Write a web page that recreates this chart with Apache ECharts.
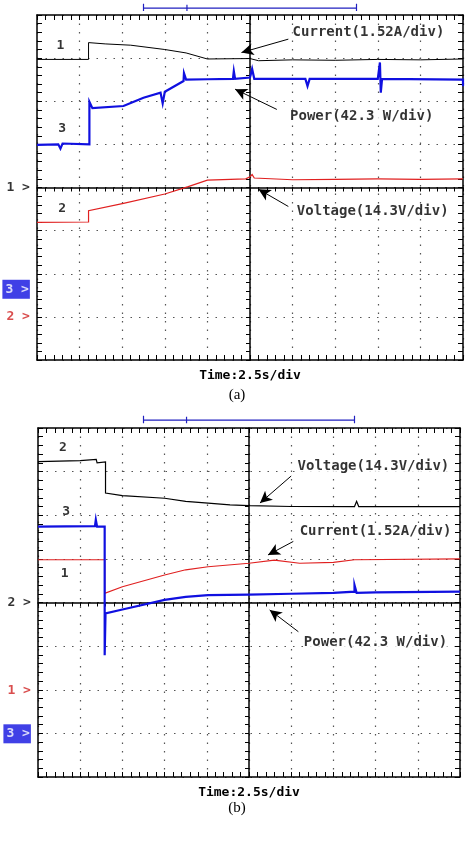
<!DOCTYPE html>
<html><head><meta charset="utf-8">
<script src="https://cdn.jsdelivr.net/npm/echarts@6/dist/echarts.min.js"></script>
<style>html,body{margin:0;background:#fff}#c{width:474px;height:845px}</style>
</head><body><div id="c"></div>
<script>
// traces in scope divisions (x: 0..10, y: 0..8 from bottom)
var currentA = [[0,6.97],[1.21,6.97],[1.21,7.36],[1.6,7.33],[2.2,7.3],[3.0,7.2],[3.5,7.12],[4.0,6.98],[5.0,6.99],[5.2,6.94],[6,6.96],[7,6.95],[8,6.97],[9,6.96],[10,6.98]];
var powerA = [[0,4.99],[0.5,5.0],[0.55,4.9],[0.6,5.02],[1.23,5.0],[1.23,5.99],[1.3,5.84],[2.03,5.89],[2.3,6.0],[2.5,6.08],[2.9,6.2],[2.95,5.95],[3.0,6.22],[3.44,6.47],[3.45,6.65],[3.5,6.5],[4.0,6.51],[4.6,6.52],[4.62,6.7],[4.65,6.52],[5.0,6.55],[5.05,6.75],[5.1,6.52],[6.3,6.52],[6.35,6.35],[6.4,6.52],[8.0,6.52],[8.05,6.9],[8.07,6.2],[8.1,6.52],[10,6.5],[10,6.35]];
var voltageA = [[0,3.19],[1.21,3.2],[1.21,3.46],[2.03,3.63],[3.0,3.85],[3.55,4.02],[4.0,4.17],[4.9,4.2],[5.0,4.25],[5.05,4.3],[5.1,4.22],[6,4.18],[7,4.19],[8,4.2],[9,4.19],[10,4.2]];
var voltageB = [[0,7.23],[1.0,7.25],[1.38,7.28],[1.4,7.2],[1.6,7.22],[1.6,6.51],[2.0,6.45],[3.0,6.39],[3.5,6.32],[4.03,6.28],[4.55,6.24],[5.0,6.22],[6.0,6.2],[7.5,6.2],[7.55,6.32],[7.6,6.2],[10,6.2]];
var powerB = [[0,5.74],[1.35,5.75],[1.37,5.9],[1.4,5.74],[1.58,5.74],[1.58,2.79],[1.6,3.75],[2.0,3.84],[3.0,4.06],[3.5,4.13],[4.03,4.17],[5,4.18],[6,4.2],[7,4.22],[7.5,4.25],[7.5,4.4],[7.55,4.22],[8,4.23],[10,4.25]];
var currentB = [[0,4.98],[1.58,4.98],[1.58,4.21],[2.0,4.36],[3.0,4.63],[3.5,4.75],[4.03,4.82],[5,4.9],[5.6,4.97],[6.2,4.9],[7,4.92],[7.5,4.98],[10,5.0]];
// channel markers on the left edge [y, text, colour, boxed]
var markersA = [[4.0,'1 >','#000',false],[1.64,'3 >','#1010e0',true],[1.0,'2 >','#d02020',false]];
var markersB = [[4.0,'2 >','#000',false],[1.99,'1 >','#d02020',false],[0.99,'3 >','#1010e0',true]];
// channel numbers [x, y, text]
var chanA = [[0.55,7.3,'1'],[0.59,5.37,'3'],[0.59,3.52,'2']];
var chanB = [[0.59,7.56,'2'],[0.67,6.09,'3'],[0.63,4.67,'1']];
// annotations [textX, textY, text, arrowFrom, arrowTo]
var notesA = [[6.0,7.6,'Current(1.52A/div)',[5.9,7.44],[4.8,7.13]],[5.94,5.64,'Power(42.3 W/div)',[5.63,5.81],[4.65,6.28]],[6.1,3.44,'Voltage(14.3V/div)',[5.9,3.56],[5.2,3.96]]];
var notesB = [[6.15,7.13,'Voltage(14.3V/div)',[6.0,6.9],[5.26,6.28]],[6.2,5.63,'Current(1.52A/div)',[6.05,5.4],[5.45,5.09]],[6.3,3.08,'Power(42.3 W/div)',[6.17,3.33],[5.49,3.83]]];

var mono = 'DejaVu Sans Mono';
var grids = [{left:37,top:15,width:426,height:345},{left:38,top:428,width:422,height:349}];
var xAxes = [], yAxes = [], series = [];

function frameAxes(g){
  var xi = xAxes.length, yi = yAxes.length;
  var tick = {show:true,inside:true,length:5,lineStyle:{color:'#000'}};
  var ctick = {show:true,inside:true,length:4,lineStyle:{color:'#000'}};
  var line = {show:true,onZero:false,lineStyle:{color:'#000',width:1.5}};
  var dots = {show:true,lineStyle:{color:'#555',type:[1.5,7],width:1.2}};
  var nolab = {show:false};
  // 0 bottom (ticks), 1 top, 2 centre, 3 grid lines
  xAxes.push({gridIndex:g,type:'value',min:0,max:10,interval:0.2,position:'bottom',axisLine:line,axisTick:tick,axisLabel:nolab,splitLine:{show:false},
    name:'Time:2.5s/div',nameLocation:'middle',nameGap:9,nameTextStyle:{fontFamily:mono,fontWeight:'bold',fontSize:13,color:'#000'}});
  xAxes.push({gridIndex:g,type:'value',min:0,max:10,interval:0.2,position:'top',axisLine:line,axisTick:tick,axisLabel:nolab,splitLine:{show:false}});
  xAxes.push({gridIndex:g,type:'value',min:-5,max:5,interval:0.2,axisLine:{show:true,onZero:true,onZeroAxisIndex:yi+2,lineStyle:{color:'#000',width:1.5}},axisTick:ctick,axisLabel:nolab,splitLine:{show:false}});
  xAxes.push({gridIndex:g,type:'value',min:0,max:10,interval:1,position:'bottom',axisLine:{show:false},axisTick:{show:false},axisLabel:nolab,splitLine:dots});
  yAxes.push({gridIndex:g,type:'value',min:0,max:8,interval:1,position:'left',axisLine:{show:false},axisTick:{show:false},axisLabel:nolab,splitLine:dots});
  yAxes.push({gridIndex:g,type:'value',min:0,max:8,interval:0.2,position:'left',axisLine:line,axisTick:tick,axisLabel:nolab,splitLine:{show:false}});
  yAxes.push({gridIndex:g,type:'value',min:-4,max:4,interval:0.2,axisLine:{show:true,onZero:true,onZeroAxisIndex:xi+2,lineStyle:{color:'#000',width:1.5}},axisTick:ctick,axisLabel:nolab,splitLine:{show:false}});
  yAxes.push({gridIndex:g,type:'value',min:0,max:8,interval:0.2,position:'right',axisLine:line,axisTick:tick,axisLabel:nolab,splitLine:{show:false}});
  return [xi, yi];
}

function trace(ax, data, color, w){
  series.push({type:'line',xAxisIndex:ax[0],yAxisIndex:ax[1],data:data,symbol:'none',lineStyle:{color:color,width:w,join:'miter'},animation:false,z:3});
}

function decorate(ax, markers, chans, notes, by){
  series.push({type:'scatter',xAxisIndex:ax[0],yAxisIndex:ax[1],clip:false,symbolSize:0,animation:false,
    data:markers.map(function(m){return {value:[-0.05,m[0]],label:{show:true,position:'left',formatter:m[1],fontFamily:mono,fontWeight:'bold',fontSize:13,
      color:m[3]?'#fff':m[2],backgroundColor:m[3]?m[2]:'transparent',padding:m[3]?[3,1,3,3]:0}};})});
  series.push({type:'scatter',xAxisIndex:ax[0],yAxisIndex:ax[1],symbolSize:0,animation:false,
    data:chans.map(function(c){return {value:[c[0],c[1]],label:{show:true,position:'inside',formatter:c[2],fontFamily:mono,fontWeight:'bold',fontSize:13,color:'#000'}};})});
  series.push({type:'scatter',xAxisIndex:ax[0],yAxisIndex:ax[1],symbolSize:0,animation:false,
    data:notes.map(function(n){return {value:[n[0],n[1]],label:{show:true,position:'right',distance:0,formatter:n[2],fontFamily:mono,fontWeight:'bold',fontSize:14,color:'#000',backgroundColor:'#fff'}};}),
    markLine:{silent:true,animation:false,symbol:['none','arrow'],symbolSize:[9,12],label:{show:false},lineStyle:{color:'#000',type:'solid',width:1},
      data:notes.map(function(n){return [{coord:n[3]},{coord:n[4]}];})}});
  // cursor bracket above the screen
  series.push({type:'line',xAxisIndex:ax[0],yAxisIndex:ax[1],clip:false,symbol:'none',animation:false,lineStyle:{color:'#2020c0',width:1.2},
    data:[[2.5,by+0.1],[2.5,by-0.07],[2.5,by],[3.52,by],[3.52,by+0.08],[3.52,by-0.07],[3.52,by],[7.5,by],[7.5,by+0.1],[7.5,by-0.07]]});
}

var a = frameAxes(0);
trace(a, currentA, '#000', 1);
trace(a, powerA, '#1010e0', 2.2);
trace(a, voltageA, '#e02020', 1.2);
decorate(a, markersA, chanA, notesA, 8.16);

var b = frameAxes(1);
trace(b, voltageB, '#000', 1.2);
trace(b, currentB, '#e02020', 1.2);
trace(b, powerB, '#1010e0', 2.2);
decorate(b, markersB, chanB, notesB, 8.18);

var chart = echarts.init(document.getElementById('c'));
chart.setOption({
  backgroundColor:'#fff',
  animation:false,
  grid:grids,
  xAxis:xAxes,
  yAxis:yAxes,
  title:[
    {text:'(a)',left:'center',top:383,textStyle:{fontFamily:'Liberation Serif',fontWeight:'normal',fontSize:15,color:'#000'}},
    {text:'(b)',left:'center',top:796,textStyle:{fontFamily:'Liberation Serif',fontWeight:'normal',fontSize:15,color:'#000'}}
  ],
  series:series
});
</script></body></html>
